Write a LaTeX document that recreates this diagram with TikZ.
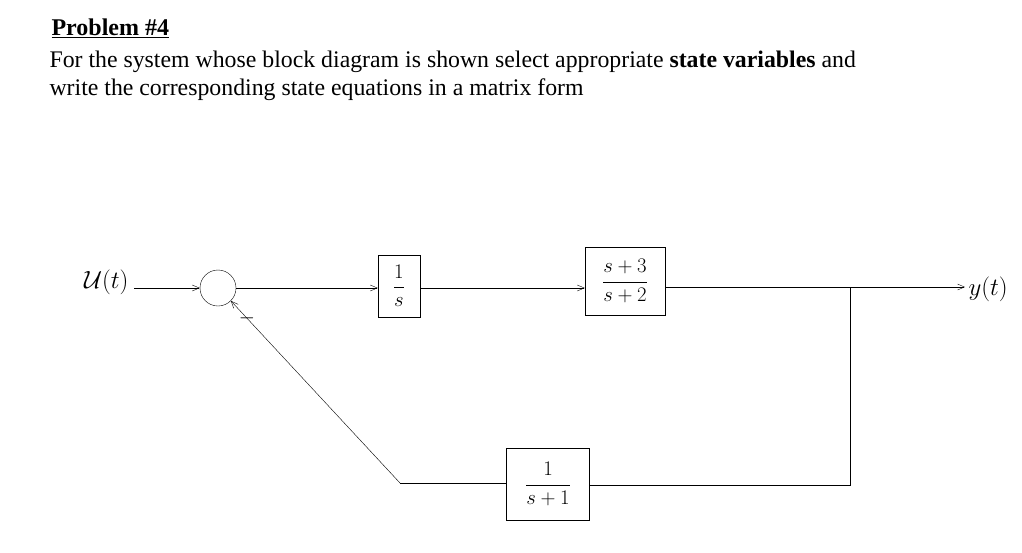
\documentclass[tikz,border=0pt]{standalone}
\usepackage{fontspec}
\setmainfont{Liberation Serif}
\usetikzlibrary{arrows.meta}
\begin{document}
\begin{tikzpicture}[x=1pt,y=-1pt,
  sig/.style={thin,-{Straight Barb[length=7pt,width=6pt]}},
  ln/.style={thin},
  lbl/.style={font=\fontsize{22}{24}\selectfont}]
\useasboundingbox (0,0) rectangle (1022,552);
\node[anchor=west,font=\fontsize{24}{26}\selectfont\bfseries] (title) at (48,28) {\underline{Problem \#4}};
\node[anchor=west,align=left,font=\fontsize{23.8}{28}\selectfont] (txt) at (46,76) {For the system whose block diagram is shown select appropriate \textbf{state variables} and\\write the corresponding state equations in a matrix form};
\node[lbl,font=\fontsize{26}{28}\selectfont,anchor=east] (u) at (132,282) {$\mathcal{U}(t)$};
\node[draw,circle,thin,minimum size=36pt,inner sep=0] (sum) at (218,288) {};
\node[draw,thin,minimum width=42pt,minimum height=62pt,inner sep=0,lbl] (g1) at (399,286) {$\displaystyle\frac{1}{s}$};
\node[draw,thin,minimum width=80pt,minimum height=68pt,inner sep=0,lbl] (g2) at (625,281) {$\displaystyle\frac{s+3}{s+2}$};
\node[draw,thin,minimum width=83pt,minimum height=72pt,inner sep=0,lbl] (g3) at (548,484) {$\displaystyle\frac{1}{s+1}$};
\node[lbl,font=\fontsize{26}{28}\selectfont,anchor=west] (y) at (965,289) {$y(t)$};
\coordinate (us) at (134,288);
\coordinate (br) at (850,287);
\coordinate (bd) at (850,485);
\coordinate (fl) at (400,483);
\draw[sig] (us) -- (sum.west);
\draw[sig] (sum.east) -- (g1.west |- sum.east);
\draw[sig] (g1.east |- sum.east) -- (g2.west |- sum.east);
\draw[ln] (g2.east |- br) -- (br);
\draw[sig] (br) -- (y.west |- br);
\draw[ln] (br) -- (bd) -- (g3.east |- bd);
\draw[ln] (g3.west |- fl) -- (fl);
\draw[sig] (fl) -- (sum.south east);
\node[lbl] (minus) at (247,318) {$-$};
\end{tikzpicture}
\end{document}
